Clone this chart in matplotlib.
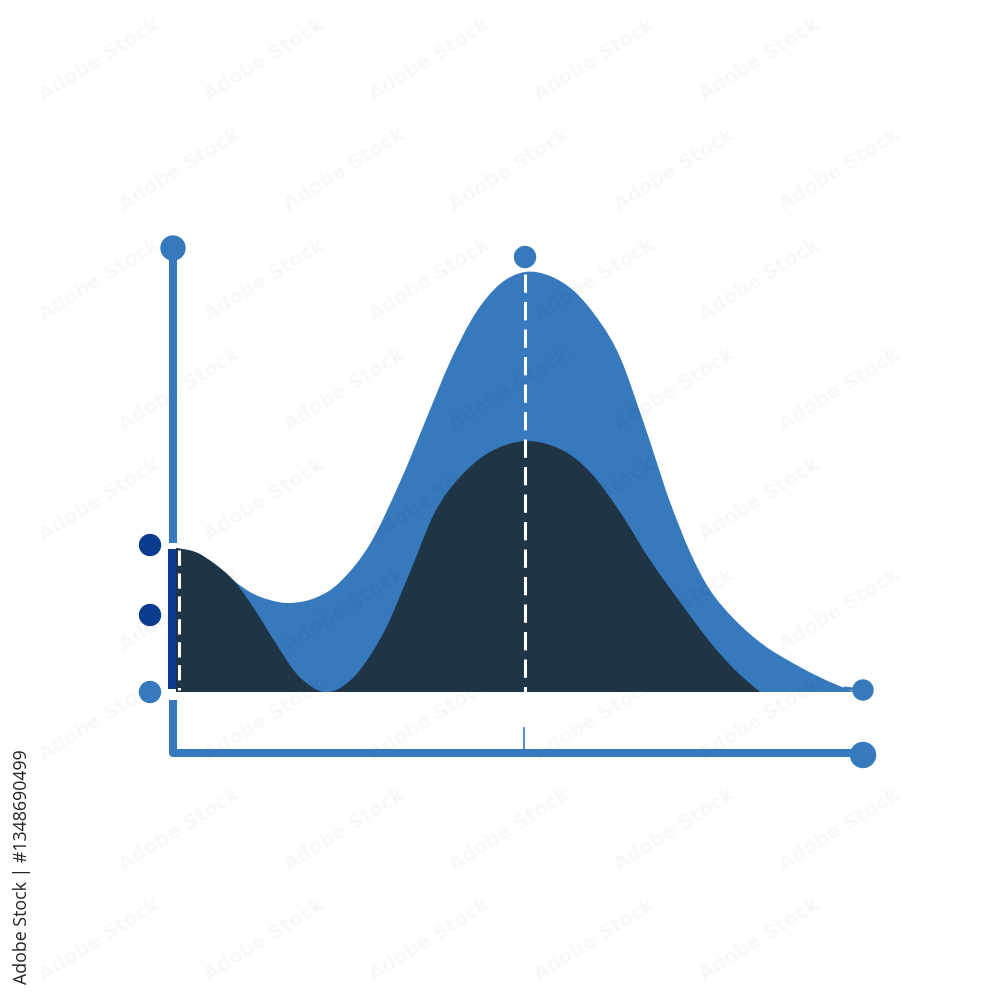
import matplotlib
matplotlib.use("agg")
import matplotlib.pyplot as plt
from matplotlib.patches import Circle, PathPatch
from matplotlib.path import Path

# pixel-space illustration: x to the right, y downwards
BASE = 692

# outer (light blue) curve: x positions and heights above baseline
outer_x = [176, 200, 225, 250, 270, 290, 315, 340, 370, 400, 425, 450, 475, 500, 525,
           550, 575, 600, 620, 640, 655, 670, 690, 710, 735, 765, 800, 830, 855]
outer_h = [144, 138, 118, 100, 92, 89, 94, 110, 148, 210, 270, 330, 378, 408, 420,
           416, 400, 370, 335, 280, 235, 190, 140, 102, 72, 46, 25, 10, 0]

# inner (dark) curve
inner_x = [176, 195, 215, 235, 255, 275, 295, 312, 325, 340, 360, 385, 410, 435, 460,
           490, 525, 560, 590, 620, 650, 680, 710, 735, 760]
inner_h = [144, 140, 128, 110, 82, 50, 20, 5, 0, 4, 22, 62, 120, 180, 215,
           240, 251, 243, 220, 180, 132, 90, 50, 22, 0]

LIGHT = "#3779bd"
DARK = "#1f3445"
NAVY = "#0b3b8c"


def smooth_area(xs, hs):
    # closed area under a Catmull-Rom curve through the given points
    pts = [(x, BASE - h) for x, h in zip(xs, hs)]
    verts = [(xs[0], BASE), pts[0]]
    codes = [Path.MOVETO, Path.LINETO]
    n = len(pts)
    for i in range(n - 1):
        p0 = pts[max(i - 1, 0)]
        p1 = pts[i]
        p2 = pts[i + 1]
        p3 = pts[min(i + 2, n - 1)]
        c1 = (p1[0] + (p2[0] - p0[0]) / 6, p1[1] + (p2[1] - p0[1]) / 6)
        c2 = (p2[0] - (p3[0] - p1[0]) / 6, p2[1] - (p3[1] - p1[1]) / 6)
        verts += [c1, c2, p2]
        codes += [Path.CURVE4] * 3
    verts += [(xs[-1], BASE), (xs[0], BASE)]
    codes += [Path.LINETO, Path.CLOSEPOLY]
    return Path(verts, codes)


fig = plt.figure(figsize=(10, 10), dpi=100)
ax = fig.add_axes([0, 0, 1, 1])
ax.set_xlim(0, 1000)
ax.set_ylim(1000, 0)
ax.axis("off")

# faint watermark pattern
for row in range(9):
    for col in range(6):
        wx = col * 165 + (row % 2) * 80 + 100
        wy = row * 110 + 60
        if wx > 920:
            continue
        ax.text(wx, wy, "Adobe Stock", rotation=32, fontsize=14, color="#000000",
                alpha=0.03, ha="center", va="center", fontweight="bold")

# filled curves
ax.add_patch(PathPatch(smooth_area(outer_x, outer_h), facecolor=LIGHT, lw=0, zorder=2))
ax.add_patch(PathPatch(smooth_area(inner_x, inner_h), facecolor=DARK, lw=0, zorder=3))

# axes lines
lw = 5.8
ax.plot([173, 173], [250, 543], color=LIGHT, lw=lw, solid_capstyle="butt", zorder=4)
ax.plot([173, 173, 862], [700, 753, 753], color=LIGHT, lw=lw,
        solid_joinstyle="round", solid_capstyle="butt", zorder=4)
ax.add_patch(Circle((173, 248), 12, color=LIGHT, zorder=5))
ax.add_patch(Circle((863, 755), 12.5, color=LIGHT, zorder=5))
ax.add_patch(Circle((863, 690), 10, color=LIGHT, zorder=5))
ax.plot([845, 863], [688, 690], color=LIGHT, lw=2, zorder=4)

# left marker bar with dashed line
ax.plot([172, 172], [549, 689], color=NAVY, lw=lw, solid_capstyle="butt", zorder=5)
ax.plot([179, 179], [550, 690], color="white", lw=2.2, dashes=(5, 2.5), zorder=6)

# left dots
ax.add_patch(Circle((150, 545), 10.5, color=NAVY, zorder=5))
ax.add_patch(Circle((150, 615), 10.5, color=NAVY, zorder=5))
ax.add_patch(Circle((150, 692), 10.5, color=LIGHT, zorder=5))

# peak marker
ax.add_patch(Circle((525, 257), 10.5, color=LIGHT, zorder=5))
ax.plot([525, 525], [274, 692], color="white", lw=2.2, dashes=(6, 3), zorder=6)
ax.plot([524, 524], [728, 750], color=LIGHT, lw=1.2, zorder=4)

# vertical credit text
ax.text(22, 867, "Adobe Stock | #1348690499", rotation=90, fontsize=12.8,
        color="#222222", ha="center", va="center", family="Open Sans")

fig.savefig("out.png", dpi=100)
